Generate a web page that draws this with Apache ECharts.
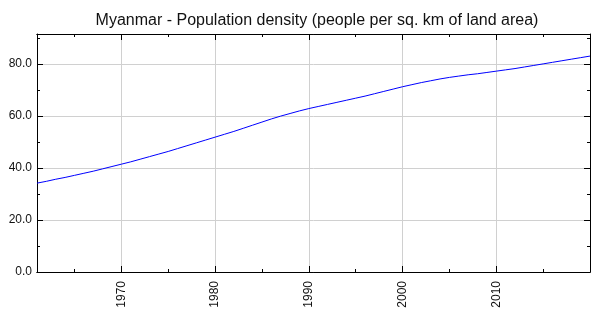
<!DOCTYPE html>
<html><head><meta charset="utf-8">
<script src="https://cdn.jsdelivr.net/npm/echarts@6/dist/echarts.min.js"></script>
<style>html,body{margin:0;padding:0;background:#fff}#c{width:600px;height:315px}</style>
</head><body><div id="c"></div>
<script>
const title = "Myanmar - Population density (people per sq. km of land area)";
const years = [];
for (let y = 1961; y <= 2020; y++) years.push(y);
const density = [
34.2,34.9,35.7,36.4,37.2,38.0,38.8,39.7,40.6,41.5,
42.4,43.4,44.4,45.4,46.4,47.5,48.6,49.7,50.8,51.9,
53.0,54.1,55.3,56.5,57.7,58.9,60.0,61.0,62.0,62.9,
63.7,64.5,65.3,66.1,66.9,67.7,68.6,69.5,70.4,71.3,
72.1,72.9,73.6,74.3,74.9,75.4,75.9,76.3,76.8,77.3,
77.8,78.3,78.9,79.5,80.1,80.7,81.3,81.9,82.5,83.1
];
const xMajor = [1970,1980,1990,2000,2010];
const xMinor = [1965,1975,1985,1995,2005,2015];
const xMin = 1961, xMax = 2020;
const yMax = 91.6;

const font = 'Liberation Sans, Arial, sans-serif';
function xAx(pos, ticks, len, label, split) {
  return {
    type: 'value', position: pos, min: xMin, max: xMax,
    axisLine: {show: true, onZero: false, lineStyle: {color: '#000', width: 1}},
    axisTick: {show: true, inside: true, length: len, customValues: ticks, lineStyle: {color: '#000'}},
    axisLabel: label ? {show: true, customValues: ticks, rotate: 90, margin: 9, color: '#111', fontSize: 12, fontFamily: font, formatter: v => String(v)} : {show: false},
    splitLine: {show: split, lineStyle: {color: '#d0d0d0', width: 1}}
  };
}
function yAx(pos, label, split) {
  return {
    type: 'value', position: pos, min: 0, max: yMax, interval: 20,
    axisLine: {show: true, onZero: false, lineStyle: {color: '#000', width: 1}},
    axisTick: {show: true, inside: true, length: 6, lineStyle: {color: '#000'}},
    minorTick: {show: true, splitNumber: 2, length: 3, lineStyle: {color: '#000'}},
    axisLabel: label ? {show: true, margin: 5, color: '#111', fontSize: 12, fontFamily: font, formatter: v => v.toFixed(1), showMaxLabel: false} : {show: false},
    splitLine: {show: split, lineStyle: {color: '#d0d0d0', width: 1}}
  };
}
const chart = echarts.init(document.getElementById('c'), null, {renderer: 'canvas'});
chart.setOption({
  animation: false,
  backgroundColor: '#fff',
  title: {text: title, left: 312, textAlign: 'center', top: 8, textStyle: {fontSize: 16, fontWeight: 'normal', color: '#111', fontFamily: font}},
  grid: {left: 37, right: 10, top: 34, bottom: 43, containLabel: false},
  xAxis: [
    xAx('bottom', xMajor, 6, true, true),
    xAx('bottom', xMinor, 3, false, false),
    xAx('top', xMajor, 6, false, false),
    xAx('top', xMinor, 3, false, false)
  ],
  yAxis: [yAx('left', true, true), yAx('right', false, false)],
  series: [{
    type: 'line', xAxisIndex: 0, yAxisIndex: 0,
    data: years.map((y, i) => [y, density[i]]),
    showSymbol: false, symbol: 'none',
    lineStyle: {color: '#0000ff', width: 1}
  }]
});
</script></body></html>
